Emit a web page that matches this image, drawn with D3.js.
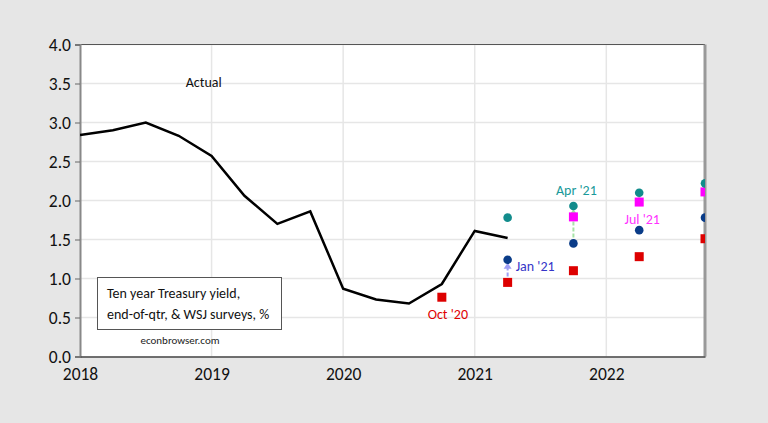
<!DOCTYPE html>
<html><head><meta charset="utf-8">
<script src="https://cdn.jsdelivr.net/npm/d3@7"></script>
<style>body{margin:0;background:#e6e6e6;}svg{display:block;font-family:Calibri,Carlito,"Open Sans",sans-serif;}</style>
</head><body><svg id="c" width="768" height="423"></svg>
<script>
const actualDates = [2018.0,2018.25,2018.5,2018.75,2019.0,2019.25,2019.5,2019.75,2020.0,2020.25,2020.5,2020.75,2021.0,2021.25];
const actualVals  = [2.84,2.90,3.00,2.83,2.57,2.06,1.70,1.86,0.87,0.73,0.68,0.93,1.61,1.52];
const oct20Dates = [2020.75,2021.25,2021.75,2022.25,2022.75];
const oct20Vals  = [0.76,0.95,1.10,1.28,1.51];
const jan21Dates = [2021.25,2021.75,2022.25,2022.75];
const jan21Vals  = [1.24,1.45,1.62,1.78];
const apr21Dates = [2021.25,2021.75,2022.25,2022.75];
const apr21Vals  = [1.78,1.93,2.10,2.22];
const jul21Dates = [2021.75,2022.25,2022.75];
const jul21Vals  = [1.79,1.98,2.11];
const yTicks = [0,0.5,1,1.5,2,2.5,3,3.5,4];
const xTicks = [2018,2019,2020,2021,2022];

const svg = d3.select("#c");
const L=80, R=705, T=44.5, B=356.5;
const x = d3.scaleLinear().domain([2018,2022.75]).range([L,R]);
const y = d3.scaleLinear().domain([0,4]).range([B,T]);

svg.append("rect").attr("x",L).attr("y",T).attr("width",R-L).attr("height",B-T).attr("fill","#fff");
const defs = svg.append("defs");
defs.append("clipPath").attr("id","clip").append("rect").attr("x",L).attr("y",T).attr("width",R-L).attr("height",B-T);

// grid
svg.append("g").selectAll("line").data(yTicks.slice(1)).join("line")
  .attr("x1",L).attr("x2",R).attr("y1",d=>y(d)).attr("y2",d=>y(d)).attr("stroke","#e6e6e6").attr("stroke-width",1.5);
svg.append("g").selectAll("line").data(xTicks.slice(1)).join("line")
  .attr("y1",T).attr("y2",B).attr("x1",d=>x(d)).attr("x2",d=>x(d)).attr("stroke","#e6e6e6").attr("stroke-width",1.5);

// frame
svg.append("line").attr("x1",L).attr("x2",R).attr("y1",T).attr("y2",T).attr("stroke","#555").attr("stroke-width",1);
svg.append("line").attr("x1",R).attr("x2",R).attr("y1",T).attr("y2",B).attr("stroke","#999").attr("stroke-width",3);

// axes
const yAxis = d3.axisLeft(y).tickValues(yTicks).tickFormat(d3.format(".1f")).tickSize(5).tickPadding(4);
const gy = svg.append("g").attr("transform",`translate(${L},0)`).call(yAxis);
gy.select(".domain").attr("stroke","#888").attr("stroke-width",2);
gy.selectAll(".tick line").attr("stroke","#666");
gy.selectAll("text").attr("font-size",17.5).attr("fill","#111").attr("font-family","Calibri,Carlito,'Open Sans',sans-serif");

const xAxis = d3.axisBottom(x).tickValues(xTicks).tickFormat(d3.format("d")).tickSize(0).tickPadding(11);
const gx = svg.append("g").attr("transform",`translate(0,${B})`).call(xAxis);
gx.select(".domain").attr("stroke","#444").attr("stroke-width",1.5);
gx.selectAll("text").attr("font-size",17.5).attr("fill","#111").attr("font-family","Calibri,Carlito,'Open Sans',sans-serif");

const plot = svg.append("g").attr("clip-path","url(#clip)");

// arrows
function arrow(xv, v0, v1, color){
  const g = plot.append("g");
  const x0 = x(xv), y0=y(v0), y1=y(v1);
  const dir = y1<y0 ? 1 : -1;
  g.append("line").attr("x1",x0).attr("x2",x0).attr("y1",y0).attr("y2",y1+dir*8)
    .attr("stroke",color).attr("stroke-width",2).attr("stroke-dasharray","4,2");
  g.append("path").attr("d",`M${x0-4},${y1+dir*9} L${x0+4},${y1+dir*9} L${x0},${y1+dir*3} Z`).attr("fill",color);
}
arrow(jan21Dates[0], oct20Vals[1], jan21Vals[0], "#9f9ff5");
arrow(apr21Dates[1], jan21Vals[1], apr21Vals[1], "#a6e3a6");
arrow(jul21Dates[1], jul21Vals[1], apr21Vals[2], "#ffaacc");

// actual line
plot.append("path").datum(actualDates.map((d,i)=>[d,actualVals[i]]))
  .attr("d", d3.line().x(d=>x(d[0])).y(d=>y(d[1])))
  .attr("fill","none").attr("stroke","#000").attr("stroke-width",2.5);

function squares(dates, vals, color){
  plot.append("g").selectAll("rect").data(dates.map((d,i)=>[d,vals[i]])).join("rect")
    .attr("x",d=>x(d[0])-4.5).attr("y",d=>y(d[1])-4.5).attr("width",9).attr("height",9).attr("fill",color);
}
function circles(dates, vals, color){
  plot.append("g").selectAll("circle").data(dates.map((d,i)=>[d,vals[i]])).join("circle")
    .attr("cx",d=>x(d[0])).attr("cy",d=>y(d[1])).attr("r",4.3).attr("fill",color);
}
squares(oct20Dates, oct20Vals, "#dd0000");
squares(jul21Dates, jul21Vals, "#ff00ff");
circles(jan21Dates, jan21Vals, "#0a3c88");
circles(apr21Dates, apr21Vals, "#128c8c");

// labels
const txt = (xp, yp, s, color, size, anchor) => svg.append("text").attr("x",xp).attr("y",yp).text(s)
  .attr("fill",color).attr("font-size",size).attr("text-anchor",anchor||"start");
txt(x(2018.94), y(3.5)+3, "Actual", "#111", 14, "middle");
txt(x(2020.75)+6, y(0.5)+1, "Oct '20", "#e00000", 14, "middle");
txt(x(2021.25)+8, y(1.2)+8, "Jan '21", "#3535c8", 14, "start");
txt(x(2021.75)+3, y(2.1)+2, "Apr '21", "#1a9a9a", 14, "middle");
txt(x(2022.25)+3, y(1.79)+7, "Jul '21", "#ff33ff", 14, "middle");

// note box
svg.append("rect").attr("x",97.5).attr("y",277.5).attr("width",184).attr("height",52)
  .attr("fill","#fff").attr("stroke","#555").attr("stroke-width",1);
txt(107, 298, "Ten year Treasury yield,", "#111", 14);
txt(107, 319, "end-of-qtr, & WSJ surveys, %", "#111", 14);
txt(180, 344, "econbrowser.com", "#222", 11, "middle");
</script></body></html>
